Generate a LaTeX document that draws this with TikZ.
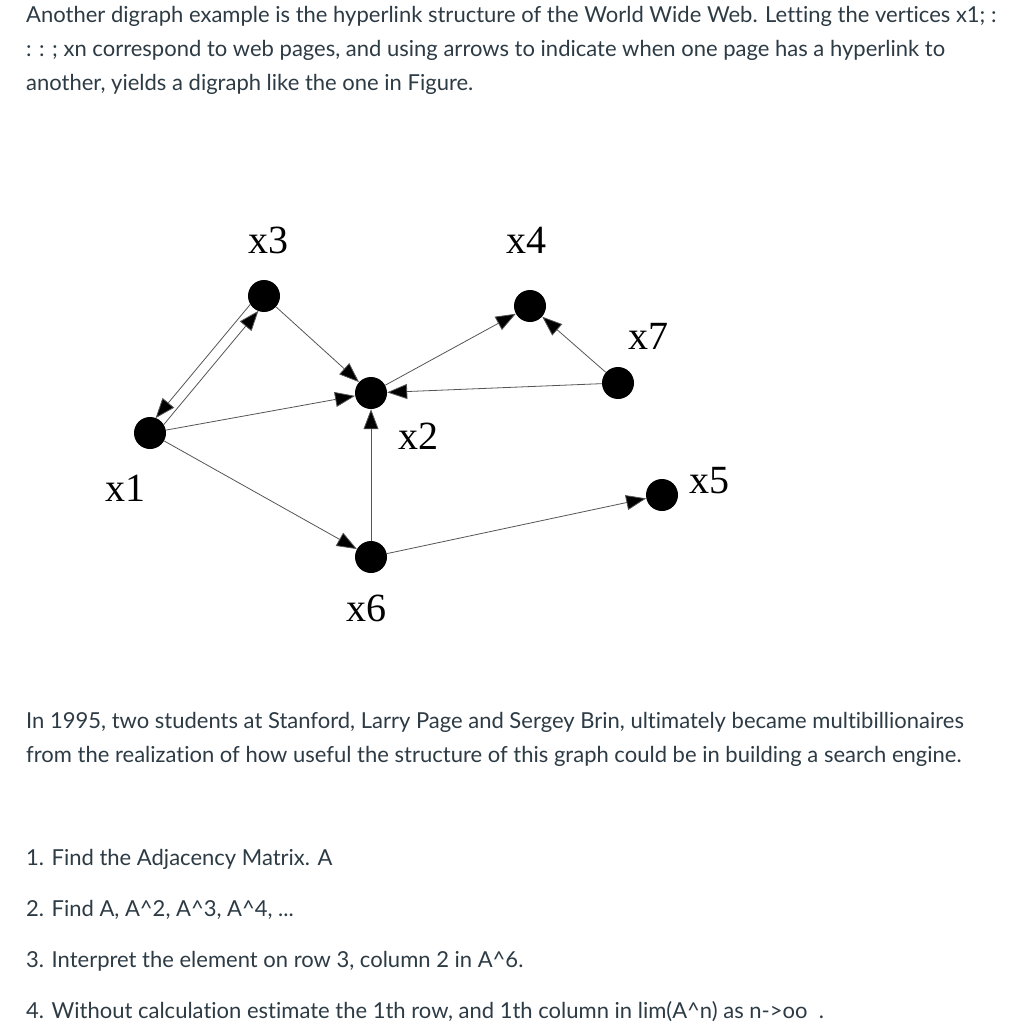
\documentclass[tikz,border=0pt]{standalone}
\usepackage{fontspec}
\setmainfont[Ligatures=NoCommon]{Lato}
\newfontfamily\labfont{Liberation Serif}
\usetikzlibrary{arrows.meta}
\definecolor{txt}{HTML}{2D3B45}
\definecolor{edge}{HTML}{555555}
\tikzset{
  vtx/.style={circle,fill=black,minimum size=32pt,inner sep=0pt},
  lab/.style={font=\labfont\fontsize{40}{40}\selectfont,inner sep=0pt},
  lnk/.style={draw=edge,line width=0.8pt,-{Triangle[length=20pt,width=15pt,fill=black]}},
  para/.style={anchor=base west,inner sep=0pt,text=txt,font=\fontsize{22}{22}\selectfont},
}
\begin{document}
\begin{tikzpicture}[x=1pt,y=-1pt]
\useasboundingbox[fill=white] (0,0) rectangle (1018,1024);
\node[para] (t1) at (26,23) {Another digraph example is the hyperlink structure of the World Wide Web. Letting the vertices x1; :};
\node[para] (t2) at (26,57) {: : ; xn correspond to web pages, and using arrows to indicate when one page has a hyperlink to};
\node[para] (t3) at (26,91) {another, yields a digraph like the one in Figure.};
\node[para] (p1) at (26,728) {In 1995, two students at Stanford, Larry Page and Sergey Brin, ultimately became multibillionaires};
\node[para] (p2) at (26,762) {from the realization of how useful the structure of this graph could be in building a search engine.};
\node[para] (q1) at (26,865) {1. Find the Adjacency Matrix. A};
\node[para] (q2) at (26,916) {2. Find A, A\^{}2, A\^{}3, A\^{}4, ...};
\node[para] (q3) at (26,967) {3. Interpret the element on row 3, column 2 in A\^{}6.};
\node[para] (q4) at (26,1018) {4. Without calculation estimate the 1th row, and 1th column in lim(A\^{}n) as n-{}>oo~~.};

\node[vtx] (x3) at (264,296) {};
\node[vtx] (x1) at (150,433) {};
\node[vtx] (x2) at (371,393) {};
\node[vtx] (x4) at (530,306) {};
\node[vtx] (x7) at (618,383) {};
\node[vtx] (x5) at (662,495) {};
\node[vtx] (x6) at (371,557) {};

\node[lab] (l3) at (268,240) {x3};
\node[lab] (l4) at (526,240) {x4};
\node[lab] (l7) at (648,336) {x7};
\node[lab] (l2) at (418,436) {x2};
\node[lab] (l1) at (125,488) {x1};
\node[lab] (l5) at (709,481) {x5};
\node[lab] (l6) at (366,608) {x6};

\draw[lnk,shorten <=15pt,shorten >=15pt] ([shift={(-4,-3.3)}]x3.center) -- ([shift={(-4,-3.3)}]x1.center);
\draw[lnk,shorten <=15pt,shorten >=15pt] ([shift={(4,3.3)}]x1.center) -- ([shift={(4,3.3)}]x3.center);
\draw[lnk] (x3) -- (x2);
\draw[lnk] (x1) -- (x2);
\draw[lnk] (x1) -- (x6);
\draw[lnk] (x6) -- (x2);
\draw[lnk] (x7) -- (x2);
\draw[lnk] (x2) -- (x4);
\draw[lnk] (x7) -- (x4);
\draw[lnk] (x6) -- (x5);
\end{tikzpicture}
\end{document}
